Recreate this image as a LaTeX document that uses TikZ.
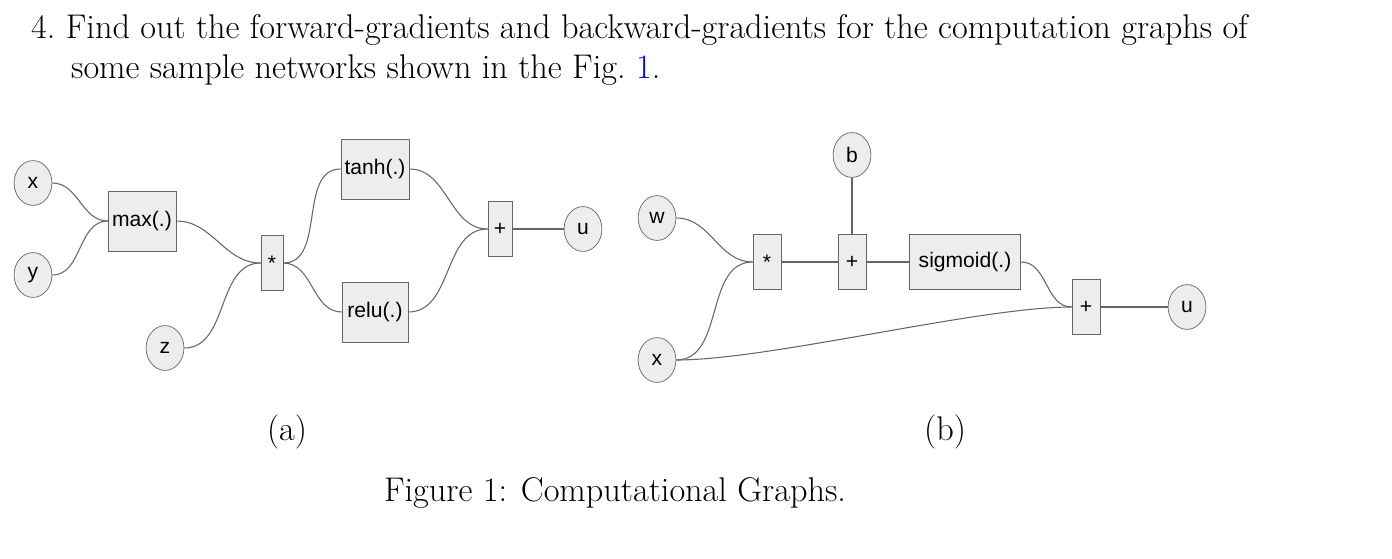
\documentclass[tikz,border=0pt]{standalone}
\usepackage{fontspec}
\newfontfamily\graphfont{Liberation Sans}
\usetikzlibrary{positioning,shapes.geometric}
\tikzset{
  var/.style={ellipse, draw=black!60, fill=black!7, minimum width=38pt*0.5669, minimum height=45pt*0.5669, inner sep=0pt, font=\graphfont\fontsize{12}{13}\selectfont},
  op/.style={rectangle, draw=black!60, fill=black!7, inner sep=2pt, minimum height=55pt*0.5669, font=\graphfont\fontsize{12}{13}\selectfont},
  link/.style={draw=black!60, line width=0.6pt},
}
\begin{document}
\begin{tikzpicture}[x=0.02cm, y=-0.02cm]
\useasboundingbox (0,0) rectangle (1392,558);

\node[anchor=base west, font=\fontsize{19.5}{23}\selectfont] at (25,38) {4.\ Find out the forward-gradients and backward-gradients for the computation graphs of};
\node[anchor=base west, font=\fontsize{19.5}{23}\selectfont] at (65,78) {some sample networks shown in the Fig.\ \textcolor{blue}{1}.};

% (a)
\node[var] (xa) at (33,183) {x};
\node[var] (ya) at (33,275) {y};
\node[var] (za) at (165,348) {z};
\node[op, minimum width=68pt*0.5669, minimum height=60pt*0.5669] (maxa) at (142,221) {max(.)};
\node[op, minimum width=22pt*0.5669] (mula) at (272,263) {*};
\node[op, minimum width=66pt*0.5669, minimum height=60pt*0.5669] (tanha) at (375,169) {tanh(.)};
\node[op, minimum width=66pt*0.5669, minimum height=60pt*0.5669] (relua) at (375,312) {relu(.)};
\node[op, minimum width=24pt*0.5669] (adda) at (500,229) {+};
\node[var] (ua) at (583,229) {u};

\draw[link] (xa.east) to[out=0,in=180] (maxa.west);
\draw[link] (ya.east) to[out=0,in=180] (maxa.west);
\draw[link] (maxa.east) to[out=0,in=180] (mula.west);
\draw[link] (za.east) to[out=0,in=180] (mula.west);
\draw[link] (mula.east) to[out=0,in=180] (tanha.west);
\draw[link] (mula.east) to[out=0,in=180] (relua.west);
\draw[link] (tanha.east) to[out=0,in=180] (adda.west);
\draw[link] (relua.east) to[out=0,in=180] (adda.west);
\draw[link] (adda) -- (ua);

% (b)
\node[var] (wb) at (657,218) {w};
\node[var] (xb) at (657,360) {x};
\node[var] (bb) at (852,155) {b};
\node[op, minimum width=28pt*0.5669] (mulb) at (767,262) {*};
\node[op, minimum width=28pt*0.5669] (addb) at (852,262) {+};
\node[op, minimum width=112pt*0.5669] (sigb) at (965,262) {sigmoid(.)};
\node[op, minimum width=28pt*0.5669] (addc) at (1086,307) {+};
\node[var] (ub) at (1187,307) {u};

\draw[link] (wb.east) to[out=0,in=180] (mulb.west);
\draw[link] (xb.east) to[out=0,in=180] (mulb.west);
\draw[link] (mulb) -- (addb);
\draw[link] (bb) -- (addb);
\draw[link] (addb) -- (sigb);
\draw[link] (sigb.east) to[out=0,in=180] (addc.west);
\draw[link] (xb.east) to[out=0,in=180,looseness=0.6] (addc.west);
\draw[link] (addc) -- (ub);

\node[font=\fontsize{19.5}{23}\selectfont] (capa) at (287,432) {(a)};
\node[font=\fontsize{19.5}{23}\selectfont] (capb) at (945,432) {(b)};
\node[font=\fontsize{19.5}{23}\selectfont] (fig) at (615,493) {Figure 1: Computational Graphs.};
\end{tikzpicture}
\end{document}
